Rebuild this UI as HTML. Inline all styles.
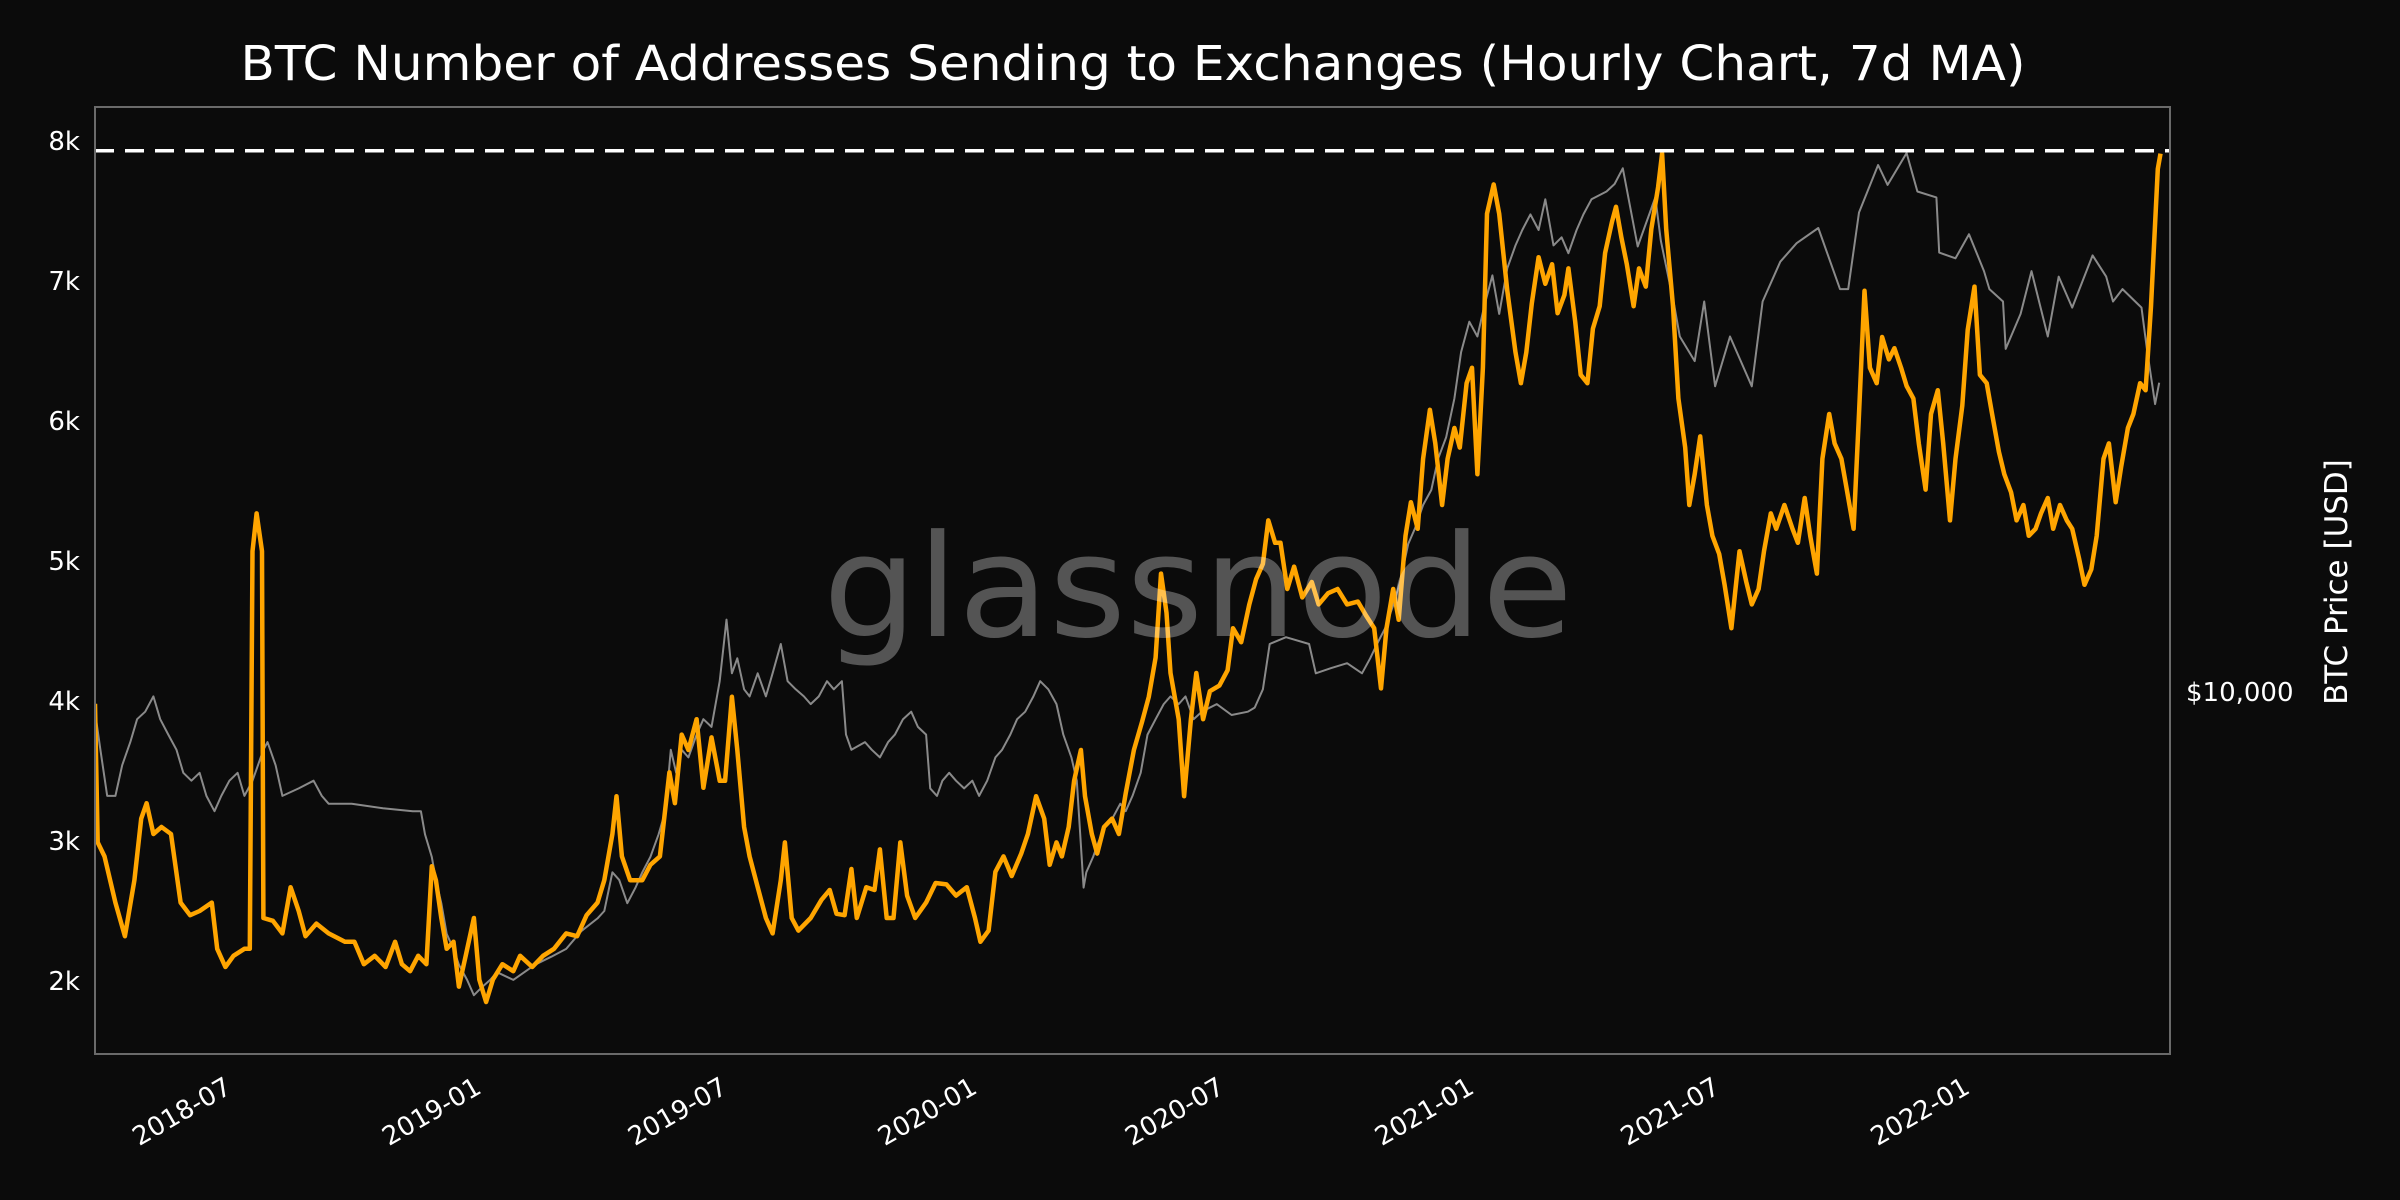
<!DOCTYPE html>
<html><head><meta charset="utf-8"><title>BTC Addresses Sending to Exchanges</title>
<style>
html,body{margin:0;padding:0;background:#0b0b0b;}
svg{display:block;}
text{font-family:"DejaVu Sans","Liberation Sans",sans-serif;fill:#fff;}
</style></head>
<body>
<svg id="chart" width="2400" height="1200" viewBox="0 0 2400 1200" xmlns="http://www.w3.org/2000/svg">
<rect x="0" y="0" width="2400" height="1200" fill="#0b0b0b"/>
<text x="1133" y="80" font-size="48" text-anchor="middle" textLength="1785" lengthAdjust="spacingAndGlyphs">BTC Number of Addresses Sending to Exchanges (Hourly Chart, 7d MA)</text>
<g id="plot"></g>
<text x="823" y="636" font-size="142" textLength="750" lengthAdjust="spacingAndGlyphs" style="fill:#fff;fill-opacity:0.3;font-family:'DejaVu Sans',sans-serif;">glassnode</text>
<rect x="95" y="107" width="2075" height="947" fill="none" stroke="#6a6a6a" stroke-width="2"/>
<text x="2186" y="701" font-size="26">$10,000</text>
<text x="0" y="0" font-size="31" text-anchor="middle" transform="translate(2347,582) rotate(-90)">BTC Price [USD]</text>
</svg>
<script>
// ---- data ----
// days since 2018-03-22 (left edge of the plot)
const addrDays = [0,2,7,15,22,29,34,38,43,49,56,63,70,77,86,90,96,102,110,114,116,119,123,124,131,138,144,150,155,163,172,184,191,198,206,214,221,226,232,238,244,248,251,255,259,264,268,273,279,283,288,293,300,308,313,322,330,338,347,355,362,370,375,381,384,388,394,403,409,416,423,427,432,437,443,448,454,460,464,469,473,478,482,488,494,499,505,508,513,518,527,535,541,546,552,557,561,568,574,578,583,588,593,598,604,612,619,627,634,642,648,652,658,663,669,675,682,687,693,699,703,708,712,717,721,726,729,734,738,743,749,754,759,765,771,776,781,785,789,792,798,802,807,811,816,821,828,834,838,844,850,855,860,864,869,873,878,883,889,896,901,908,915,922,930,936,942,947,951,956,960,965,969,974,978,983,987,992,996,1001,1005,1010,1014,1018,1022,1025,1030,1034,1040,1046,1050,1054,1058,1063,1068,1073,1077,1082,1085,1090,1094,1099,1103,1108,1112,1117,1120,1124,1128,1133,1137,1142,1146,1151,1154,1157,1162,1166,1171,1174,1178,1182,1187,1191,1196,1200,1205,1208,1211,1216,1220,1225,1229,1234,1238,1244,1250,1254,1259,1263,1268,1272,1277,1281,1286,1290,1295,1299,1303,1307,1312,1316,1321,1325,1330,1334,1339,1343,1348,1352,1357,1361,1366,1370,1375,1379,1384,1388,1393,1397,1402,1406,1411,1415,1420,1424,1429,1433,1438,1442,1447,1452,1456,1461,1465,1470,1474,1479,1483,1488,1492,1497,1501,1506,1510,1514,1519,1521];
// addresses sending to exchanges, thousands
const addrValues = [3.98,2.99,2.89,2.56,2.32,2.72,3.16,3.27,3.05,3.10,3.05,2.56,2.47,2.50,2.56,2.23,2.10,2.18,2.23,2.23,5.07,5.34,5.07,2.45,2.43,2.34,2.67,2.50,2.32,2.41,2.34,2.28,2.28,2.12,2.18,2.10,2.28,2.12,2.07,2.18,2.12,2.82,2.72,2.45,2.23,2.28,1.96,2.18,2.45,2.01,1.85,2.01,2.12,2.07,2.18,2.10,2.18,2.23,2.34,2.32,2.47,2.56,2.72,3.05,3.32,2.89,2.72,2.72,2.83,2.89,3.49,3.27,3.76,3.65,3.87,3.38,3.74,3.43,3.43,4.03,3.65,3.10,2.89,2.67,2.45,2.34,2.72,2.99,2.45,2.36,2.45,2.58,2.65,2.48,2.47,2.80,2.45,2.67,2.65,2.94,2.45,2.45,2.99,2.61,2.45,2.56,2.70,2.69,2.61,2.67,2.45,2.28,2.36,2.78,2.89,2.75,2.91,3.05,3.32,3.16,2.83,2.99,2.89,3.10,3.43,3.65,3.32,3.05,2.91,3.10,3.16,3.05,3.34,3.65,3.85,4.03,4.31,4.91,4.63,4.20,3.87,3.32,3.87,4.20,3.87,4.07,4.11,4.22,4.52,4.42,4.69,4.87,4.98,5.29,5.13,5.13,4.80,4.96,4.74,4.85,4.69,4.77,4.80,4.69,4.71,4.61,4.52,4.09,4.52,4.80,4.58,5.18,5.42,5.23,5.73,6.08,5.84,5.40,5.73,5.95,5.81,6.27,6.38,5.62,6.38,7.48,7.69,7.48,6.93,6.49,6.27,6.49,6.84,7.17,6.98,7.12,6.77,6.90,7.09,6.71,6.33,6.27,6.66,6.82,7.20,7.42,7.53,7.31,7.12,6.82,7.09,6.96,7.37,7.67,7.91,7.37,6.82,6.16,5.81,5.40,5.62,5.89,5.40,5.18,5.05,4.83,4.52,4.80,5.07,4.85,4.69,4.80,5.07,5.34,5.23,5.40,5.23,5.13,5.45,5.18,4.91,5.73,6.05,5.84,5.73,5.51,5.23,6.05,6.93,6.38,6.27,6.60,6.44,6.52,6.38,6.25,6.16,5.84,5.51,6.05,6.22,5.84,5.29,5.73,6.11,6.65,6.96,6.33,6.27,6.05,5.78,5.62,5.49,5.29,5.40,5.18,5.23,5.34,5.45,5.23,5.40,5.29,5.23,5.02,4.83,4.94,5.18,5.73,5.84,5.42,5.67,5.95,6.05,6.27,6.22,6.82,7.80,7.91];
const priceDays = [0,4,9,15,20,26,31,37,43,48,54,60,65,71,77,82,88,93,99,105,110,116,124,127,133,138,150,161,167,172,189,212,234,240,243,248,251,255,259,264,268,274,279,285,291,296,308,324,336,347,358,370,375,381,386,392,398,403,409,415,420,424,428,432,437,443,448,454,460,465,469,473,478,482,488,494,499,505,510,516,522,527,533,539,544,550,553,557,567,572,578,584,589,595,601,606,612,615,620,624,629,634,640,646,651,657,663,668,674,679,685,691,696,702,708,713,719,723,728,730,735,739,744,749,755,759,764,770,775,781,787,792,798,803,809,815,826,837,849,854,860,865,877,894,899,910,922,933,939,944,950,956,961,967,972,978,984,989,995,1001,1006,1012,1018,1023,1029,1034,1040,1046,1051,1057,1063,1068,1074,1080,1085,1091,1096,1102,1113,1119,1125,1136,1149,1153,1163,1167,1178,1185,1193,1204,1220,1228,1241,1253,1269,1285,1291,1299,1313,1320,1334,1342,1356,1358,1370,1380,1391,1395,1405,1407,1418,1426,1438,1446,1456,1471,1481,1486,1493,1507,1511,1517,1520];
// BTC price, thousands USD
const priceK = [9.31,8.11,6.86,6.86,7.67,8.34,9.06,9.31,9.84,9.06,8.57,8.11,7.46,7.25,7.46,6.86,6.49,6.86,7.25,7.46,6.86,7.25,8.11,8.34,7.67,6.86,7.05,7.25,6.86,6.67,6.67,6.56,6.49,6.49,5.97,5.50,5.06,4.65,4.16,3.94,3.72,3.52,3.33,3.43,3.52,3.62,3.52,3.72,3.83,3.94,4.20,4.40,4.52,5.20,5.06,4.65,4.92,5.20,5.50,5.97,6.49,8.11,7.46,8.11,7.89,8.57,9.06,8.81,10.4,13.0,10.7,11.3,10.1,9.84,10.7,9.84,10.7,11.9,10.4,10.1,9.84,9.57,9.84,10.4,10.1,10.4,8.57,8.11,8.34,8.11,7.89,8.34,8.57,9.06,9.31,8.81,8.57,7.05,6.86,7.25,7.46,7.25,7.05,7.25,6.86,7.25,7.89,8.11,8.57,9.06,9.31,9.84,10.4,10.1,9.57,8.57,7.89,7.25,4.92,5.20,5.50,5.81,6.14,6.31,6.67,6.49,6.86,7.46,8.57,9.06,9.57,9.84,9.57,9.84,9.06,9.31,9.57,9.2,9.31,9.45,10.1,11.9,12.2,11.9,10.7,10.9,11.1,10.7,11.3,11.9,12.6,13.7,14.9,17.1,18.1,19.7,20.8,23.3,25.2,29.0,34.3,38.3,36.3,40.5,45.3,39.4,46.5,50.5,53.4,56.5,53.4,59.7,50.5,52.0,49.1,53.4,56.5,59.7,61.4,63.1,66.8,50.3,60.1,51.4,40.5,36.3,33.2,41.2,30.3,36.3,30.3,41.2,47.6,50.9,53.8,43.1,43.1,56.9,67.6,62.9,70.6,61.4,60.1,49.2,48.2,52.6,46.0,43.1,41.2,34.7,39.4,46.0,36.3,45.1,40.3,48.7,45.1,41.2,43.1,40.3,34.7,28.4,30.7];
const yTickValues = [2,3,4,5,6,7,8];
const yTickLabels = ["2k","3k","4k","5k","6k","7k","8k"];
const xTickDays = [101,285,466,650,832,1016,1197,1381];
const xTickLabels = ["2018-07","2019-01","2019-07","2020-01","2020-07","2021-01","2021-07","2022-01"];
const athValue = [7.93];

// ---- scales ----
const PL = 95, PR = 2170, PT = 107, PB = 1054;
function xs(d){ return PL + d * 1.358; }
function ys(vk){ return 141 + (8 - vk) * 140; }
function yp(pk){ return 692 - (Math.log10(pk * 1000) - 4) * 635; }

const NS = "http://www.w3.org/2000/svg";
const svg = document.getElementById('chart');
const plot = document.getElementById('plot');

function mk(tag, attrs, parent){
  const e = document.createElementNS(NS, tag);
  for (const k in attrs) e.setAttribute(k, attrs[k]);
  parent.appendChild(e);
  return e;
}

const defs = mk('defs', {}, svg);
const cp = mk('clipPath', {id:'clip'}, defs);
mk('rect', {x:PL, y:PT, width:PR-PL, height:PB-PT}, cp);
plot.setAttribute('clip-path', 'url(#clip)');

let d1 = '';
for (let i = 0; i < priceDays.length; i++) {
  d1 += (i ? 'L' : 'M') + xs(priceDays[i]).toFixed(1) + ',' + yp(priceK[i]).toFixed(1);
}
const priceLine = mk('path', {d:d1, fill:'none', stroke:'#8a8a8a', 'stroke-width':2, 'stroke-linejoin':'round'}, plot);



let d2 = '';
for (let i = 0; i < addrDays.length; i++) {
  d2 += (i ? 'L' : 'M') + xs(addrDays[i]).toFixed(1) + ',' + ys(addrValues[i]).toFixed(1);
}
const addrLine = mk('path', {d:d2, fill:'none', stroke:'#ffa500', 'stroke-width':4.5, 'stroke-linejoin':'round'}, plot);



const ath = mk('line', {x1:PL, x2:PR, y1:ys(athValue[0]), y2:ys(athValue[0]), stroke:'#ffffff', 'stroke-width':3.5, 'stroke-dasharray':'19,11'}, plot);



for (let i = 0; i < yTickValues.length; i++) {
  const t = mk('text', {x:80, y:ys(yTickValues[i]) + 9, 'font-size':26, 'text-anchor':'end'}, svg);
  t.textContent = yTickLabels[i];
  
  
}
for (let i = 0; i < xTickDays.length; i++) {
  const x = xs(xTickDays[i]) + 1;
  const t = mk('text', {x:0, y:0, 'font-size':26, 'text-anchor':'end', transform:'translate(' + x.toFixed(1) + ',1092) rotate(-30)'}, svg);
  t.textContent = xTickLabels[i];
  
  
}
</script>
</body></html>
